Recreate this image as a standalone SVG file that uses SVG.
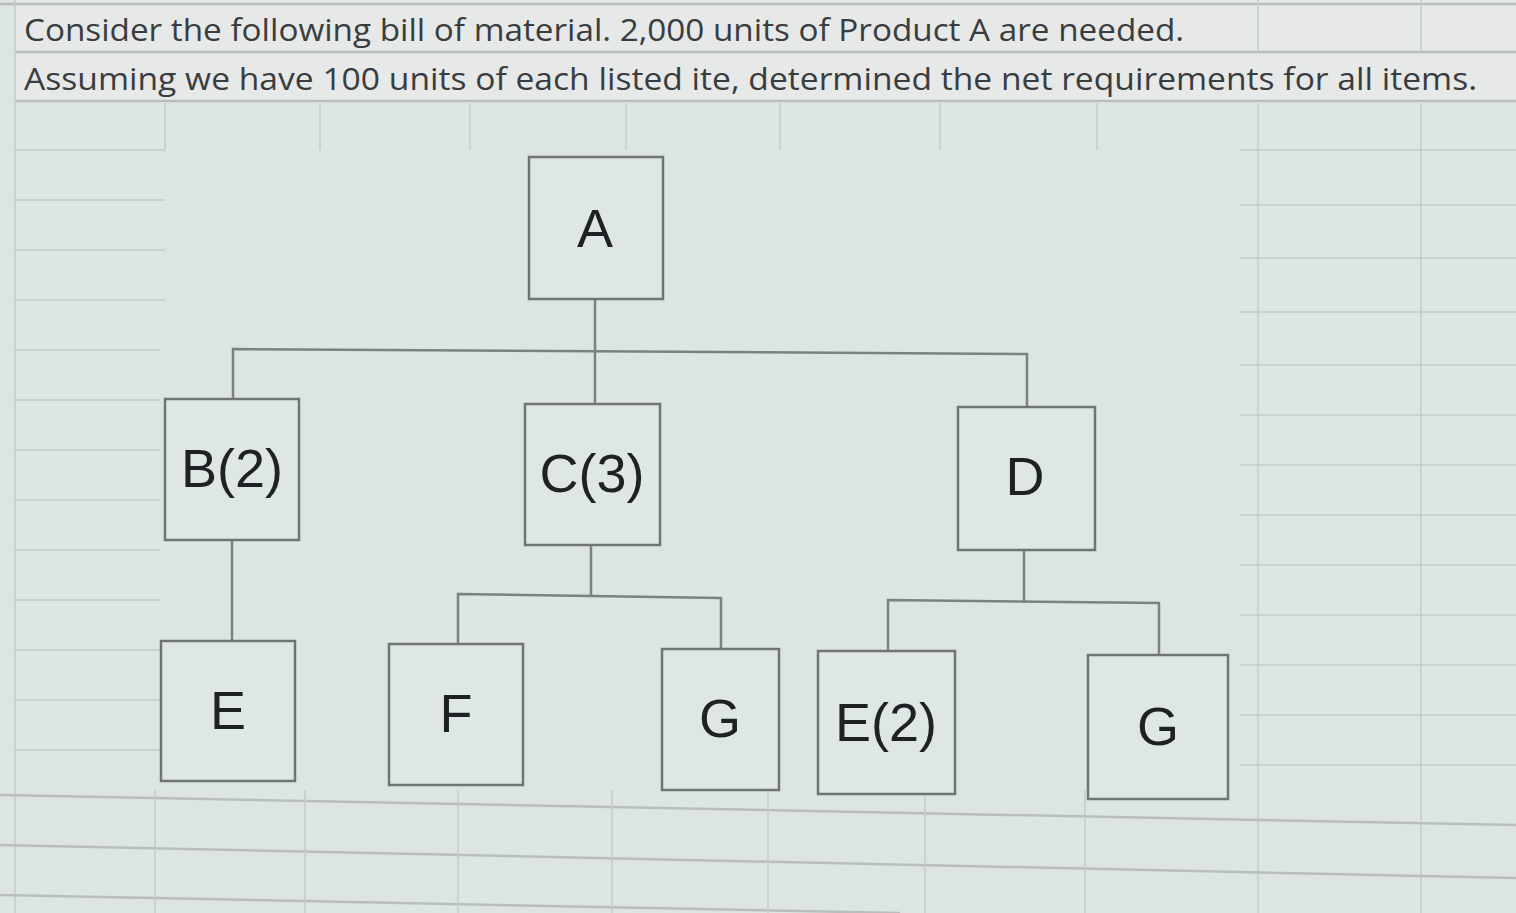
<svg xmlns="http://www.w3.org/2000/svg" width="1516" height="913" viewBox="0 0 1516 913">
<style>
.bg{fill:#dce5e3}
.top{fill:#e6e9e8}
.grid{stroke:#c4cbca;stroke-width:1.5;fill:none}
.gridd{stroke:#b9bebd;stroke-width:2.5;fill:none}
.box{fill:#dfe7e5;stroke:#6f7574;stroke-width:2.5}
.conn{stroke:#7b8180;stroke-width:2.5;fill:none}
.lbl{font-family:"Liberation Sans",Arial,sans-serif;font-size:54px;fill:#1f2224;text-anchor:middle}
.q{font-family:"Open Sans","Noto Sans",sans-serif;font-size:31px;fill:#3a3d40}
</style>
<rect class="bg" x="0" y="0" width="1516" height="913"/>
<rect class="top" x="15" y="0" width="1501" height="103"/>
<g id="grid">
<path class="gridd" d="M0 4H1516M15 52H1516M15 101H1516"/>
<path class="grid" d="M15 0V913M1258 0V52M1421 0V52"/>
<path class="grid" d="M165 103V150M320 103V150M470 103V150M626 103V150M780 103V150M940 103V150M1097 103V150M1258 103V913M1421 103V913"/>
<path class="grid" d="M15 150H165M15 200H165M15 250H165M15 300H165M15 350H160M15 400H160M15 450H160M15 500H160M15 550H160M15 600H160M15 650H160M15 700H160M15 750H160"/>
<path class="grid" d="M1240 150H1516M1240 205H1516M1240 258H1516M1240 312H1516M1240 365H1516M1240 415H1516M1240 465H1516M1240 515H1516M1240 565H1516M1240 615H1516M1240 665H1516M1240 715H1516M1240 765H1516"/>
<path class="gridd" d="M0 795L1516 825M0 845L1516 878M0 895L900 913"/>
<path class="grid" d="M155 790V913M305 790V913M458 790V913M612 790V913M768 790V913M925 790V913M1085 790V913"/>
</g>
<text class="q" x="24" y="41" textLength="1160" lengthAdjust="spacingAndGlyphs">Consider the following bill of material. 2,000 units of Product A are needed.</text>
<text class="q" x="24" y="90" textLength="1453" lengthAdjust="spacingAndGlyphs">Assuming we have 100 units of each listed ite, determined the net requirements for all items.</text>
<g id="connectors">
<path class="conn" d="M595 299V351"/>
<path class="conn" d="M233 399V349L1027 354V407"/>
<path class="conn" d="M595 351V404"/>
<path class="conn" d="M232 540V641"/>
<path class="conn" d="M591 545V595"/>
<path class="conn" d="M458 644V594L721 598V649"/>
<path class="conn" d="M1024 550V601"/>
<path class="conn" d="M888 651V600L1159 603V655"/>
</g>
<g id="node-A"><rect class="box" x="529" y="157" width="134" height="142"/><text class="lbl" x="595" y="247">A</text></g>
<g id="node-B"><rect class="box" x="165" y="399" width="134" height="141"/><text class="lbl" x="232" y="487">B(2)</text></g>
<g id="node-C"><rect class="box" x="525" y="404" width="135" height="141"/><text class="lbl" x="592" y="492">C(3)</text></g>
<g id="node-D"><rect class="box" x="958" y="407" width="137" height="143"/><text class="lbl" x="1025" y="495">D</text></g>
<g id="node-E"><rect class="box" x="161" y="641" width="134" height="140"/><text class="lbl" x="228" y="729">E</text></g>
<g id="node-F"><rect class="box" x="389" y="644" width="134" height="141"/><text class="lbl" x="456" y="732">F</text></g>
<g id="node-G"><rect class="box" x="662" y="649" width="117" height="141"/><text class="lbl" x="720" y="737">G</text></g>
<g id="node-E2"><rect class="box" x="818" y="651" width="137" height="143"/><text class="lbl" x="886" y="741">E(2)</text></g>
<g id="node-G2"><rect class="box" x="1088" y="655" width="140" height="144"/><text class="lbl" x="1158" y="745">G</text></g>
</svg>
